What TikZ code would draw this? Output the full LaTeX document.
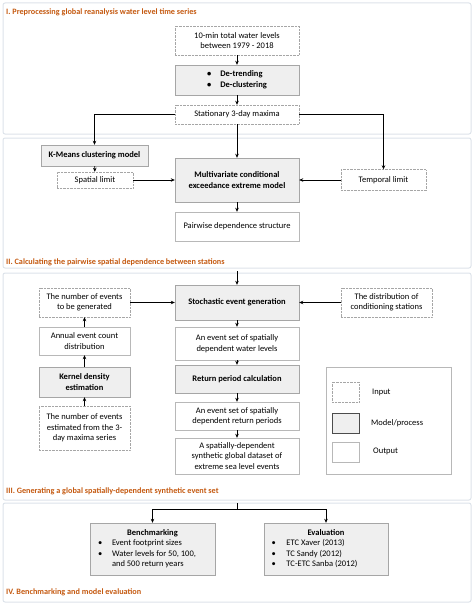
\documentclass[tikz,border=0pt]{standalone}
\usepackage{fontspec}
\setmainfont{Carlito}
\usetikzlibrary{arrows.meta}
\definecolor{titleorange}{HTML}{C55A11}
\definecolor{panelline}{HTML}{DDE3EA}
\definecolor{procfill}{HTML}{EFEFEF}
\definecolor{boxline}{HTML}{A6A6A6}
\tikzset{
  every node/.style={font=\fontsize{8.5}{10.5}\selectfont, inner sep=1pt},
  panel/.style={draw=panelline, line width=1pt, fill=white, rounded corners=2pt},
  paneltitle/.style={anchor=west, text=titleorange, font=\fontsize{8.2}{10}\selectfont\bfseries},
  inbox/.style={draw=boxline, densely dotted, fill=white, align=center},
  procbox/.style={draw=boxline, fill=procfill, align=center, font=\fontsize{8.5}{10.5}\selectfont\bfseries},
  outbox/.style={draw=boxline!80, fill=white, align=center},
  arr/.style={->, >={Stealth[length=4pt,width=3.5pt]}, line width=.6pt},
}
\begin{document}
\begin{tikzpicture}[x=1pt,y=-1pt]
\useasboundingbox (0,0) rectangle (474,607);
\draw[panel] (3,3) rectangle (471,134);
\draw[panel] (3,138) rectangle (471,268);
\draw[panel] (3,273) rectangle (471,500);
\draw[panel] (3,503) rectangle (471,602);
\node[paneltitle] (t1) at(5,12) {I. Preprocessing global reanalysis water level time series};
\node[paneltitle] (t2) at(5,262) {II. Calculating the pairwise spatial dependence between stations};
\node[paneltitle] (t3) at(5,491) {III. Generating a global spatially-dependent synthetic event set};
\node[paneltitle] (t4) at(5,592) {IV. Benchmarking and model evaluation};

\node[inbox, minimum width=124, minimum height=29] (raw) at(237,40.5) {10-min total water levels\\between 1979 - 2018};
\node[procbox, minimum width=124, minimum height=30] (detr) at(237,80) {\begin{tabular}{@{}l@{\hspace{9pt}}l@{}}\textbullet & De-trending\\ \textbullet & De-clustering\end{tabular}};
\node[inbox, minimum width=124, minimum height=19] (stat) at(237,114.5) {Stationary 3-day maxima};

\node[procbox, minimum width=107, minimum height=21] (kmeans) at(94.5,155.5) {K-Means clustering model};
\node[inbox, minimum width=76, minimum height=16] (spatial) at(95,180) {Spatial limit};
\node[procbox, minimum width=124, minimum height=44] (multi) at(237,180) {Multivariate conditional\\exceedance extreme model};
\node[inbox, minimum width=85, minimum height=21] (temporal) at(383.5,180) {Temporal limit};
\node[outbox, minimum width=124, minimum height=29] (pairwise) at(237,226.5) {Pairwise dependence structure};

\node[inbox, minimum width=91, minimum height=29] (ngen) at(84.5,302.5) {The number of events\\to be generated};
\node[procbox, minimum width=124, minimum height=35] (stoch) at(237,302.5) {Stochastic event generation};
\node[inbox, minimum width=91, minimum height=29] (cond) at(386.5,302.5) {The distribution of\\conditioning stations};
\node[outbox, minimum width=91, minimum height=28] (annual) at(84.5,341) {Annual event count\\distribution};
\node[procbox, minimum width=91, minimum height=30] (kde) at(84.5,382) {Kernel density\\estimation};
\node[inbox, minimum width=91, minimum height=44] (nest) at(84.5,428) {The number of events\\estimated from the 3-\\day maxima series};
\node[outbox, minimum width=124, minimum height=33] (evwl) at(237,343.5) {An event set of spatially\\dependent water levels};
\node[procbox, minimum width=124, minimum height=28] (rp) at(237,379) {Return period calculation};
\node[outbox, minimum width=124, minimum height=28] (evrp) at(237,416) {An event set of spatially\\dependent return periods};
\node[outbox, minimum width=124, minimum height=36] (synth) at(237,456) {A spatially-dependent\\synthetic global dataset of\\extreme sea level events};

\draw[boxline!80] (326,367) rectangle (451,474);
\node[inbox, minimum width=27, minimum height=20] (keyin) at(345.5,392) {};
\node[procbox, draw=black!70, minimum width=27, minimum height=20] (keyproc) at(345.5,423) {};
\node[outbox, minimum width=27, minimum height=20] (keyout) at(345.5,452) {};
\node[anchor=west] (lin) at(371,392) {Input};
\node[anchor=west] (lproc) at(370,423) {Model/process};
\node[anchor=west] (lout) at(372,451) {Output};

\node[procbox, font=\fontsize{8.5}{10.5}\selectfont, minimum width=125, minimum height=52] (bench) at(152.5,549) {\begin{tabular}{@{}p{14pt}@{}p{95pt}@{}}\multicolumn{2}{@{}c@{}}{\textbf{Benchmarking}}\\ \textbullet & Event footprint sizes\\ \textbullet & Water levels for 50, 100,\\ & and 500 return years\end{tabular}};
\node[procbox, font=\fontsize{8.5}{10.5}\selectfont, minimum width=124, minimum height=52] (eval) at(326,549) {\begin{tabular}{@{}p{15pt}@{}p{94pt}@{}}\multicolumn{2}{@{}c@{}}{\textbf{Evaluation}}\\ \textbullet & ETC Xaver (2013)\\ \textbullet & TC Sandy (2012)\\ \textbullet & TC-ETC Sanba (2012)\end{tabular}};

\coordinate (in3) at(237,271);
\coordinate (split) at(237,503);
\coordinate (fork) at(237,509);

\draw[arr] (raw) -- (detr);
\draw[arr] (detr) -- (stat);
\draw[arr] (stat.west) -| (kmeans.north);
\draw[arr] (stat.east) -| (temporal.north);
\draw[arr] (stat) -- (multi);
\draw[arr] (kmeans) -- (spatial);
\draw[arr] (spatial) -- (multi);
\draw[arr] (temporal) -- (multi);
\draw[arr] (multi) -- (pairwise);
\draw[arr] (in3) -- (stoch);
\draw[arr] (ngen) -- (stoch);
\draw[arr] (cond) -- (stoch);
\draw[arr] (stoch) -- (evwl);
\draw[arr] (evwl) -- (rp);
\draw[arr] (rp) -- (evrp);
\draw[arr] (evrp) -- (synth);
\draw[arr] (nest) -- (kde);
\draw[arr] (kde) -- (annual);
\draw[arr] (annual) -- (ngen);
\draw[line width=.6pt] (split) -- (fork);
\draw[arr] (fork) -| (bench.north);
\draw[arr] (fork) -| (eval.north);
\end{tikzpicture}
\end{document}
